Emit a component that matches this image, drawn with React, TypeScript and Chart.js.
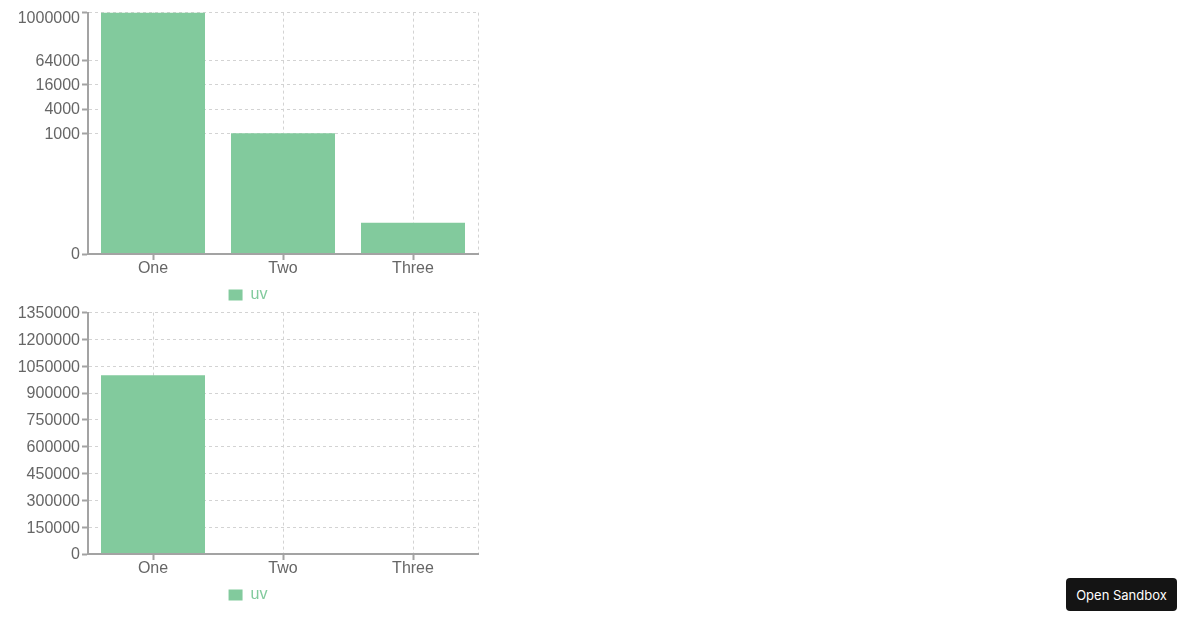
import { useEffect, useRef } from 'react'
import { Chart, registerables, LinearScale } from 'chart.js'

// data
const categories = ['One', 'Two', 'Three']
const uvValues = [1000000, 1000, 5]
const symlogTicks = [0, 1000, 4000, 16000, 64000, 1000000]
const linearTicks = [0, 150000, 300000, 450000, 600000, 750000, 900000, 1050000, 1200000, 1350000]

const BAR_COLOR = '#82ca9d'
const AXIS_COLOR = '#a3a3a3'
const GRID_COLOR = '#d3d3d3'
const TICK_COLOR = '#666'

const symlog = (v: number) => Math.sign(v) * Math.log1p(Math.abs(v))
const symexp = (t: number) => Math.sign(t) * Math.expm1(Math.abs(t))

// linear scale with a symlog mapping (like d3 scaleSymlog, constant 1)
class SymlogScale extends LinearScale {
  static id = 'symlog'
  static defaults = LinearScale.defaults

  getPixelForValue(value: number) {
    const lo = symlog(this.min)
    const hi = symlog(this.max)
    return this.getPixelForDecimal((symlog(value) - lo) / (hi - lo))
  }

  getValueForPixel(pixel: number) {
    const lo = symlog(this.min)
    const hi = symlog(this.max)
    return symexp(lo + this.getDecimalForPixel(pixel) * (hi - lo))
  }
}

Chart.register(...registerables, SymlogScale)
Chart.defaults.font.family = '"Liberation Sans", Arial, sans-serif'

// dashed line on the right edge of the plot, like the grid
const rightEdgeLine = {
  id: 'rightEdgeLine',
  beforeDatasetsDraw(chart: Chart) {
    const { ctx, chartArea } = chart
    const x = Math.round(chartArea.right) + 0.5
    ctx.save()
    ctx.strokeStyle = GRID_COLOR
    ctx.lineWidth = 1
    ctx.setLineDash([3, 3])
    ctx.beginPath()
    ctx.moveTo(x, chartArea.top)
    ctx.lineTo(x, chartArea.bottom)
    ctx.stroke()
    ctx.restore()
  }
}

interface BarPanelProps {
  scaleType: 'symlog' | 'linear'
  tickValues: number[]
  top: number
  lowerTopLabel?: boolean
}

function BarPanel({ scaleType, tickValues, top, lowerTopLabel }: BarPanelProps) {
  const canvasRef = useRef<HTMLCanvasElement>(null)

  useEffect(() => {
    if (!canvasRef.current) return
    const lastIndex = tickValues.length - 1
    const isShifted = (i: number) => lowerTopLabel && i === lastIndex

    const chart = new Chart(canvasRef.current, {
      type: 'bar',
      data: {
        labels: categories,
        datasets: [{
          label: 'uv',
          data: uvValues,
          backgroundColor: BAR_COLOR,
          borderWidth: 0,
          categoryPercentage: 1,
          barPercentage: 0.8
        }]
      },
      options: {
        animation: false,
        responsive: true,
        maintainAspectRatio: false,
        layout: { padding: { left: 10, right: 30, top: 0, bottom: 0 } },
        plugins: {
          legend: {
            position: 'bottom',
            labels: {
              color: BAR_COLOR,
              boxWidth: 14,
              boxHeight: 11,
              padding: 10,
              font: { size: 16 }
            }
          },
          tooltip: { enabled: false }
        },
        scales: {
          x: {
            grid: { offset: false, color: GRID_COLOR, tickColor: AXIS_COLOR, tickLength: 6, tickWidth: 2 },
            border: { color: AXIS_COLOR, width: 2, dash: [3, 3], z: 1 },
            ticks: { color: TICK_COLOR, font: { size: 16 }, padding: -1, maxRotation: 0 },
            afterFit: (scale: any) => { scale.height = 23 }
          },
          y: {
            type: scaleType,
            min: tickValues[0],
            max: tickValues[lastIndex],
            afterBuildTicks: (scale: any) => {
              scale.ticks = tickValues.map(value => ({ value }))
            },
            grid: {
              color: (c: any) => (c.index === 0 ? 'rgba(0,0,0,0)' : GRID_COLOR),
              tickColor: AXIS_COLOR,
              tickLength: 6,
              tickWidth: 2
            },
            border: { color: AXIS_COLOR, width: 2, dash: [3, 3], z: 1 },
            ticks: {
              color: TICK_COLOR,
              font: (c: any) => (isShifted(c.index) ? { size: 16, lineHeight: 0.6 } : { size: 16 }),
              padding: 2,
              labelOffset: 1,
              // the topmost label of the first chart sits a little below its tick
              callback: (v: any, i: number) => (isShifted(i) ? ['', String(v)] : String(v))
            },
            afterFit: (scale: any) => { scale.width = 70 }
          }
        }
      },
      plugins: [rightEdgeLine]
    })

    return () => chart.destroy()
  }, [scaleType, tickValues, lowerTopLabel])

  return (
    <div style={{ position: 'absolute', left: 0, top, width: 500, height: 312 }}>
      <canvas ref={canvasRef} />
    </div>
  )
}

export default function App() {
  return (
    <div style={{ position: 'relative', width: 500, height: 600 }}>
      <BarPanel scaleType="symlog" tickValues={symlogTicks} top={-7} lowerTopLabel />
      <BarPanel scaleType="linear" tickValues={linearTicks} top={293} />
      <button
        style={{
          position: 'fixed',
          right: 23,
          bottom: 19,
          width: 111,
          height: 33,
          background: '#141414',
          color: '#fff',
          border: 'none',
          borderRadius: 4,
          fontFamily: 'Inter, "Noto Sans", sans-serif',
          fontSize: 13
        }}
      >
        Open Sandbox
      </button>
    </div>
  )
}
